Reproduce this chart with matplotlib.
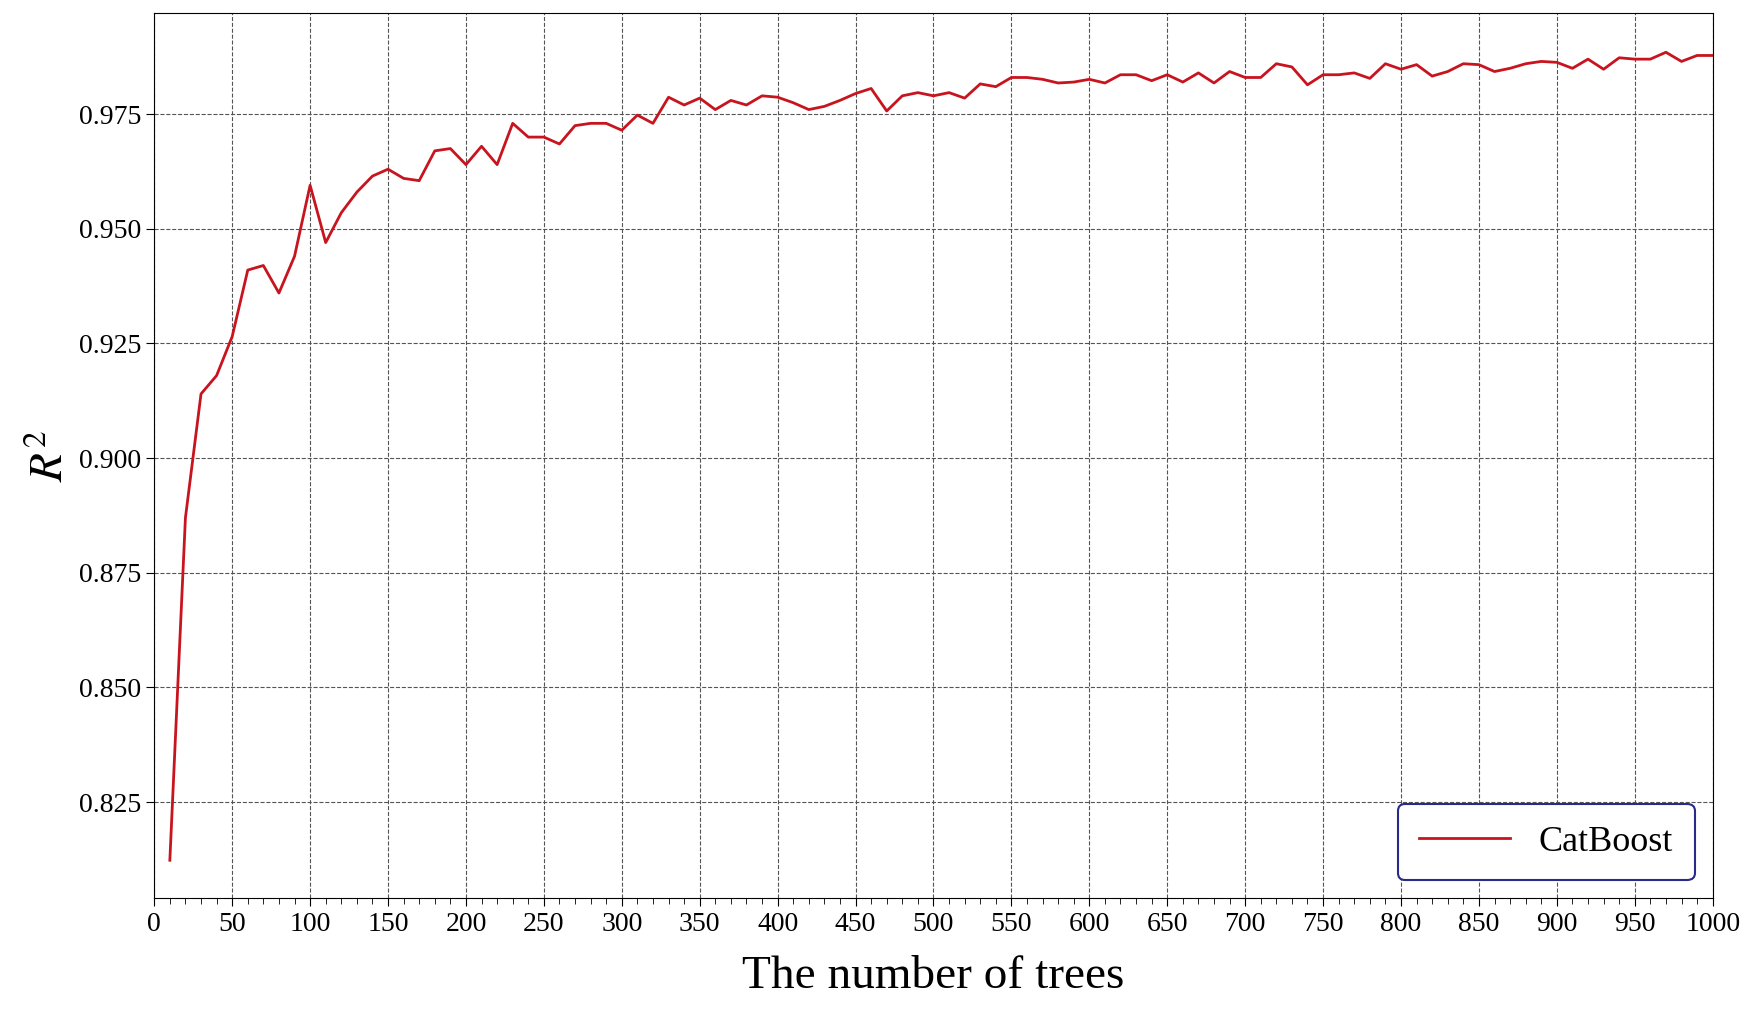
import matplotlib
matplotlib.use("Agg")
import matplotlib.pyplot as plt
from matplotlib.ticker import MultipleLocator

trees = list(range(10, 1001, 10))
r2 = [0.8123,0.887,0.914,0.918,0.9265,0.941,0.942,0.936,0.944,0.9595,
      0.947,0.9535,0.958,0.9615,0.963,0.961,0.9605,0.967,0.9675,0.964,
      0.968,0.964,0.973,0.970,0.970,0.9685,0.9725,0.973,0.973,0.9715,
      0.9748,0.973,0.9787,0.977,0.9785,0.976,0.978,0.977,0.979,0.9787,
      0.9775,0.976,0.9767,0.978,0.9795,0.9806,0.9757,0.979,0.9797,0.979,
      0.9797,0.9785,0.9816,0.981,0.983,0.983,0.9826,0.9818,0.982,0.9826,
      0.9818,0.9836,0.9836,0.9823,0.9836,0.982,0.984,0.9818,0.9843,0.983,
      0.983,0.986,0.9853,0.9814,0.9836,0.9836,0.984,0.9828,0.986,0.9848,
      0.9858,0.9833,0.9843,0.986,0.9858,0.9843,0.985,0.986,0.9865,0.9863,
      0.985,0.987,0.9848,0.9873,0.987,0.987,0.9885,0.9865,0.9878,0.9878]

plt.rcParams['font.family'] = ['Liberation Serif', 'DejaVu Serif']
plt.rcParams['mathtext.fontset'] = 'stix'
fig = plt.figure(figsize=(17.53, 10.22), dpi=100)
ax = fig.add_axes([0.088, 0.121, 0.889, 0.866])
ax.plot(trees, r2, color='#c8141e', lw=2, label='CatBoost')
ax.set_xlim(0, 1000)
ax.set_ylim(0.804, 0.997)
ax.xaxis.set_major_locator(MultipleLocator(50))
ax.xaxis.set_minor_locator(MultipleLocator(10))
ax.yaxis.set_major_locator(MultipleLocator(0.025))
ax.yaxis.set_major_formatter(matplotlib.ticker.FormatStrFormatter('%.3f'))
ax.grid(True, which='major', ls='--', color='#555555', lw=0.8)
ax.tick_params(axis='both', which='major', labelsize=20, length=6, direction='out')
ax.tick_params(axis='x', which='minor', length=4)
ax.set_xlabel('The number of trees', fontsize=34, labelpad=14)
ax.set_ylabel('$R^2$', fontsize=34)
leg = ax.legend(loc='lower right', fontsize=26, fancybox=True, framealpha=1,
                borderpad=0.6, handlelength=2.5)
leg.get_frame().set_edgecolor('#2a2a8a')
leg.get_frame().set_linewidth(1.5)
fig.savefig('out.png', dpi=100)
